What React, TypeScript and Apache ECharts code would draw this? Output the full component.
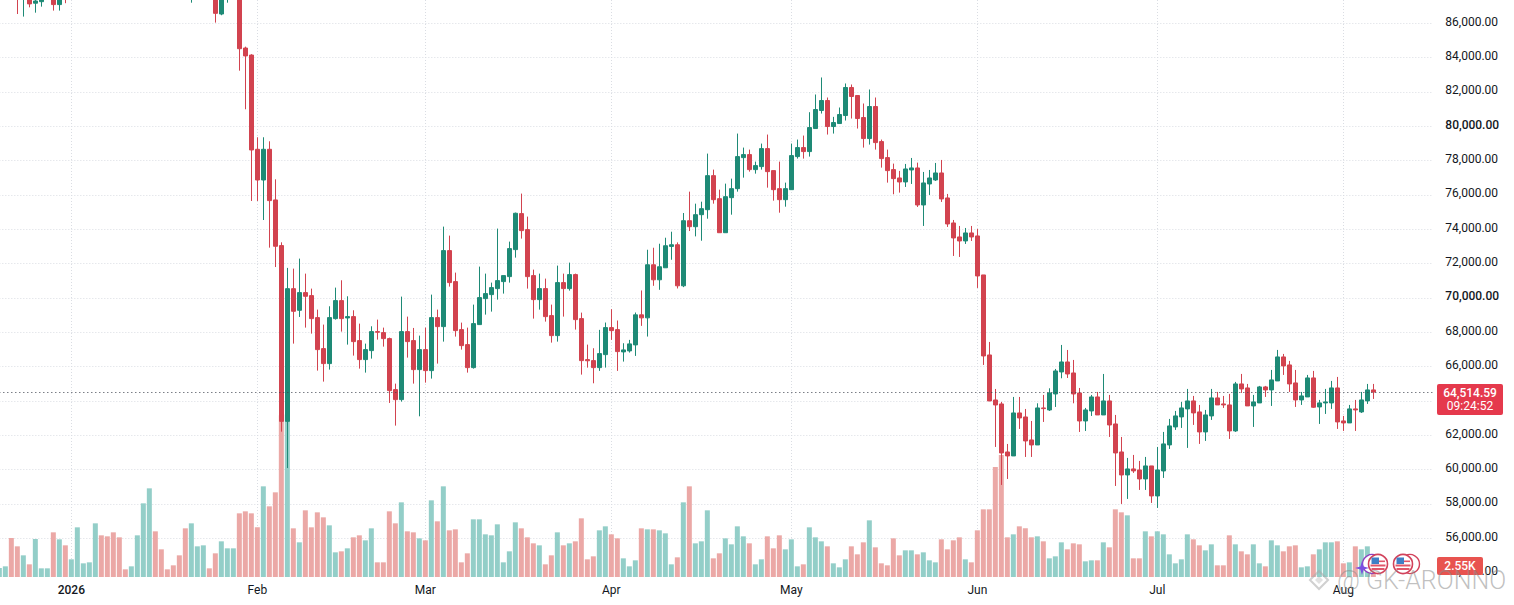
import React, { useEffect, useRef } from "react";
import * as echarts from "echarts";

const opens = [
  87800, 88100, 88300, 87900, 87500, 87600, 87170, 87260, 87500, 87800,
  87090, 88300, 87700, 88500, 89900, 90200, 90500, 92500, 91700, 91000,
  90200, 89500, 89300, 89700, 91500, 94000, 96800, 95200, 94500, 94300,
  93900, 93000, 88500, 88800, 89300, 89800, 89500, 86540, 87900, 88300,
  88800, 84560, 84150, 78660, 76870, 78660, 75710, 73050, 62810, 70540,
  69280, 70310, 70135, 68853, 67047, 66174, 68795, 69844, 68834, 68912,
  67514, 66407, 66931, 68038, 67980, 67630, 64659, 64076, 68038, 67514,
  65824, 66989, 65766, 68853, 68329, 72757, 70951, 68154, 67280, 65940,
  68446, 69960, 70193, 70543, 70951, 71242, 72815, 74912, 73980, 71300,
  69902, 70543, 68970, 67805, 70893, 70543, 71359, 68795, 66407, 66348,
  65940, 66698, 68271, 68154, 66856, 66914, 67264, 69015, 68840, 71932,
  71057, 71757, 73002, 73099, 70707, 74500, 74150, 74850, 75141, 77125,
  75783, 73800, 75842, 76367, 78175, 78351, 77476, 77651, 78700, 77417,
  76367, 75725, 76308, 78234, 78759, 78526, 79868, 80919, 81502, 79985,
  80160, 80626, 82260, 81793, 80510, 79284, 81151, 79109, 78176, 77476,
  76990, 76757, 77456, 77573, 75417, 76641, 76874, 77281, 75825, 74368,
  73553, 73320, 73786, 73611, 71339, 66678, 64056, 63823, 61027, 60795,
  63300, 63066, 61726, 61435, 63591, 63474, 64406, 65688, 66270, 65629,
  64464, 62833, 63416, 64232, 63183, 64000, 62658, 61027, 59688, 60038,
  59980, 59455, 60213, 58465, 59921, 61437, 62485, 63068, 63534, 64000,
  63359, 62194, 63126, 64175, 63825, 63767, 62252, 64990, 64757, 63709,
  63883, 64815, 64641, 65165, 66563, 66097, 65048, 64058, 64233, 65340,
  63650, 63883, 63883, 64757, 62834, 62718, 63534, 63359, 64000, 64641,
];

const closes = [
  88100, 88300, 87900, 87500, 87900, 87130, 87300, 87500, 87700, 87090,
  87700, 87700, 88500, 89900, 90200, 90500, 92500, 91700, 91000, 90200,
  89500, 89300, 89700, 91500, 94000, 96800, 95200, 94500, 94300, 93900,
  93000, 88500, 88800, 89300, 89800, 89500, 86580, 87900, 88300, 88800,
  84520, 84100, 78620, 76870, 78660, 75670, 73010, 62810, 70540, 69222,
  70310, 70096, 68795, 66989, 66174, 68853, 69844, 68795, 68912, 67455,
  66407, 66989, 68038, 68000, 67630, 64600, 64076, 68038, 67455, 65824,
  66989, 65766, 68853, 68329, 72757, 70893, 68096, 67222, 65940, 68504,
  70019, 70252, 70601, 71009, 71300, 72873, 74932, 73922, 71242, 69902,
  70543, 68912, 67805, 70893, 70543, 71359, 68737, 66348, 66340, 65940,
  66756, 68271, 68096, 66873, 66972, 67323, 69015, 68840, 71932, 71057,
  71816, 73041, 73099, 70707, 74500, 74150, 74850, 75200, 77125, 75725,
  73800, 75900, 76367, 78234, 78351, 77476, 77709, 78700, 77358, 76308,
  75725, 76367, 78292, 78759, 78526, 79926, 80977, 81502, 79985, 80218,
  80685, 82260, 81735, 80451, 79284, 81151, 79050, 78117, 77417, 76950,
  76757, 77514, 77573, 75417, 76699, 76990, 77281, 75767, 74310, 73495,
  73320, 73786, 73553, 71281, 66620, 63998, 63765, 60969, 60795, 63300,
  63008, 61668, 61435, 63591, 63552, 64464, 65746, 66270, 65571, 64406,
  62833, 63474, 64232, 63183, 64000, 62600, 60969, 59687, 60038, 59922,
  59455, 60213, 58465, 59980, 61495, 62543, 63126, 63592, 64000, 63301,
  62194, 63184, 64175, 63767, 63767, 62252, 64990, 64699, 63709, 63942,
  64815, 64641, 65223, 66563, 66039, 64990, 64058, 64291, 65340, 63631,
  63883, 63942, 64757, 62776, 62718, 63534, 63475, 64058, 64641, 64514.59,
];

const lows = [
  87500, 87700, 87500, 86540, 86390, 86930, 86620, 86970, 87450, 86740,
  86740, 87170, 87450, 88200, 89500, 89800, 90200, 91200, 90500, 89700,
  89000, 88900, 89000, 89400, 91200, 93700, 94700, 94000, 93900, 93500,
  92500, 88000, 87200, 88300, 88900, 89200, 86040, 86470, 87200, 87900,
  83240, 80990, 75650, 75650, 74540, 72930, 71800, 62210, 60090, 67339,
  68892, 68271, 67921, 65766, 65125, 65824, 68737, 68038, 67280, 66640,
  65882, 65649, 66465, 67572, 67164, 63882, 62561, 63960, 66523, 65008,
  63105, 65066, 65300, 66174, 67455, 70660, 67747, 66989, 65649, 65882,
  68446, 69028, 69203, 69902, 70252, 70893, 72349, 73456, 70543, 68795,
  69320, 68620, 67397, 67455, 68912, 70426, 68155, 65533, 65940, 65027,
  65750, 65942, 67556, 65750, 66292, 66817, 66622, 68373, 67750, 70707,
  70474, 71757, 72224, 70551, 70629, 73897, 73586, 73333, 74616, 75492,
  73800, 73800, 74850, 76192, 77009, 77358, 77242, 77476, 76425, 75667,
  74966, 75316, 76308, 78117, 78117, 78234, 79868, 80743, 79518, 79576,
  80160, 80335, 80451, 79868, 78759, 78934, 78642, 77592, 76717, 76039,
  76136, 76466, 76640, 75300, 74194, 76000, 76815, 75592, 74136, 72446,
  72388, 73145, 73320, 70582, 66096, 63998, 61319, 59105, 59454, 60795,
  62367, 60736, 60736, 61435, 62775, 63416, 63649, 65319, 65338, 63862,
  62192, 62250, 63125, 63183, 63183, 61901, 59046, 57998, 58290, 59805,
  58815, 58815, 58057, 57766, 59514, 61203, 62310, 62427, 61262, 62602,
  61495, 61669, 62893, 63767, 63592, 61786, 62194, 64466, 63709, 62485,
  63883, 64233, 63708, 65165, 65514, 64524, 63650, 63767, 64233, 63592,
  62660, 63242, 63534, 62369, 62252, 62718, 62252, 63300, 63825, 64116,
];

const highs = [
  88400, 88600, 88700, 88200, 88200, 88000, 87700, 87900, 88000, 88100,
  88100, 88600, 88900, 90300, 90800, 91000, 93000, 92900, 92200, 91500,
  90700, 89900, 90000, 92000, 94800, 97500, 97200, 95700, 94900, 94700,
  94300, 93300, 89200, 89700, 90100, 90000, 89800, 88200, 88600, 89000,
  89100, 84640, 84200, 79360, 79360, 79125, 76910, 73240, 71750, 71708,
  72291, 71417, 70543, 69320, 68446, 69514, 70601, 71029, 70096, 69281,
  68504, 67339, 68349, 68737, 68271, 67688, 65008, 70077, 68912, 68252,
  67805, 68271, 70193, 69320, 74155, 73631, 71475, 68562, 68271, 69611,
  71825, 71417, 70893, 74039, 71300, 73281, 74971, 76078, 74738, 71650,
  71417, 71126, 69611, 71883, 71417, 72058, 71417, 69145, 67280, 67070,
  68140, 68567, 69345, 68684, 67360, 67556, 69151, 70435, 72808, 72924,
  73158, 73508, 73858, 73235, 74947, 76192, 75492, 75608, 78409, 77476,
  76308, 76659, 76950, 79576, 78759, 78642, 77942, 78992, 79518, 77417,
  77942, 76717, 78992, 79226, 79459, 80821, 81852, 82844, 81677, 80549,
  81094, 82494, 82435, 81793, 81327, 82144, 81677, 79226, 78642, 77825,
  77400, 77806, 78155, 77883, 77340, 77456, 77864, 78039, 76058, 74543,
  74194, 74077, 74194, 74019, 71339, 67436, 64697, 63940, 61493, 64232,
  64232, 63532, 62833, 63862, 64348, 64736, 65863, 67261, 66969, 66387,
  64755, 63591, 64348, 64523, 65571, 64348, 63183, 61901, 60679, 60854,
  60504, 60737, 60213, 61320, 62194, 62951, 63417, 63942, 64699, 64291,
  63767, 63475, 64699, 64524, 64291, 64408, 65107, 65573, 64990, 64349,
  64874, 64874, 65806, 66971, 66738, 66330, 65806, 64524, 65514, 65748,
  64058, 64699, 65165, 65398, 63126, 63767, 64058, 64524, 64990, 64990,
];

const volumes = [
  2160, 2560, 9360, 7360, 5200, 3040, 9120, 2080, 2080, 10720,
  9040, 7600, 4240, 11920, 3280, 3520, 12880, 10000, 9760, 10720,
  9520, 1840, 2560, 10000, 17680, 21280, 10960, 6640, 1840, 2800,
  5200, 11680, 12880, 7360, 7600, 2080, 5680, 8560, 6880, 6880,
  15280, 15760, 15280, 11920, 21760, 16960, 20320, 38800, 39000, 11680,
  8320, 16000, 11920, 15520, 14320, 12400, 5920, 6160, 6880, 9520,
  10000, 8800, 11680, 3520, 3520, 15760, 12880, 17920, 10960, 10720,
  9280, 8800, 18400, 13360, 21760, 11200, 11440, 3520, 5680, 13840,
  13840, 10240, 10000, 12640, 3520, 6160, 13120, 11680, 9520, 8080,
  7600, 3040, 5200, 10720, 7600, 8080, 8560, 14080, 4240, 4960,
  11200, 12160, 10240, 9280, 4480, 2560, 4000, 11680, 11440, 11440,
  11200, 10480, 3040, 4720, 17920, 21760, 8080, 8560, 16000, 4480,
  5680, 9280, 7840, 12160, 9760, 8080, 3040, 4240, 9760, 6880,
  10000, 6640, 9040, 2560, 3040, 11920, 9520, 8560, 7360, 3280,
  2320, 4240, 7360, 5440, 8320, 13600, 7120, 3280, 2800, 9280,
  5200, 6400, 6400, 5440, 5920, 4000, 3520, 9040, 6640, 8800,
  9520, 4240, 3520, 11200, 16240, 16240, 26400, 29280, 9520, 10240,
  12160, 11680, 9520, 9760, 8560, 4480, 4960, 8320, 6640, 8080,
  7840, 3760, 4000, 4000, 8320, 7120, 16240, 15520, 14800, 4480,
  4480, 10960, 9760, 10960, 10240, 5440, 3280, 4240, 10240, 9040,
  7600, 6400, 7840, 2800, 2800, 10000, 7840, 6160, 5440, 7840,
  3280, 2560, 8800, 7600, 6160, 7360, 7600, 2320, 2560, 5440,
  6640, 8320, 8320, 8560, 3280, 3520, 7360, 6640, 7360, 2550,
];

const firstDay = Date.UTC(2025, 11, 20);
const slotCount = 240;
const categories: string[] = [];
for (let i = 0; i < slotCount; i++) {
  categories.push(new Date(firstDay + i * 86400000).toISOString().slice(0, 10));
}

const tickDates = ["2026-01-01", "2026-02-01", "2026-03-01", "2026-04-01", "2026-05-01", "2026-06-01", "2026-07-01", "2026-08-01"];
const tickLabels = ["2026", "Feb", "Mar", "Apr", "May", "Jun", "Jul", "Aug"];
const boldPrices = [70000, 80000];
const hiddenPrices = [64000, 88000];
const lastPrice = 64514.59;

const UP = "#1E8A76";
const DOWN = "#D2434F";
const UP_VOL = "#93CEC8";
const DOWN_VOL = "#EBA8A6";
const GRID = "#DADDE3";
const TEXT = "#131722";

function flag(cx: number, cy: number) {
  return [
    { type: "circle", z: 50, shape: { cx, cy, r: 9.5 }, style: { fill: "#fff", stroke: "#D2435C", lineWidth: 1.6 } },
    { type: "rect", z: 50, shape: { x: cx - 7.5, y: cy + 0.5, width: 15, height: 2 }, style: { fill: "#E0566A" } },
    { type: "rect", z: 50, shape: { x: cx - 6.5, y: cy + 4, width: 13, height: 2 }, style: { fill: "#E0566A" } },
    { type: "rect", z: 50, shape: { x: cx - 1, y: cy - 3.5, width: 8, height: 1.6 }, style: { fill: "#E0566A" } },
    { type: "rect", z: 50, shape: { x: cx - 6.5, y: cy - 6.5, width: 7.5, height: 6.5 }, style: { fill: "#3F7FC6" } },
  ];
}

function overlays() {
  return [
    { type: "circle", z: 50, shape: { cx: 1372, cy: 564, r: 9.5 }, style: { fill: "#fff", stroke: "#8E3FC0", lineWidth: 1.4 } },
    { type: "circle", z: 50, shape: { cx: 1410, cy: 564, r: 9.5 }, style: { fill: "#fff", stroke: "#D2435C", lineWidth: 1.4 } },
    ...flag(1378, 564),
    ...flag(1403, 564),
    {
      type: "polygon",
      z: 50,
      shape: { points: [[1362, 561], [1363.6, 566.4], [1369, 568], [1363.6, 569.6], [1362, 575], [1360.4, 569.6], [1355, 568], [1360.4, 566.4]] },
      style: { fill: "#7B4FE0" },
    },
    { type: "rect", z: 50, shape: { x: 1437, y: 384, width: 66, height: 31, r: 2 }, style: { fill: "#E5394C" } },
    { type: "text", z: 51, x: 1470, y: 392.5, style: { text: "64,514.59", fill: "#fff", font: "500 12px Roboto", align: "center", verticalAlign: "middle" } },
    { type: "text", z: 51, x: 1470, y: 406, style: { text: "09:24:52", fill: "#fff", font: "12px Roboto", align: "center", verticalAlign: "middle" } },
    { type: "rect", z: 50, shape: { x: 1437, y: 557, width: 46, height: 18, r: 2 }, style: { fill: "#E8534F" } },
    { type: "text", z: 51, x: 1460, y: 566, style: { text: "2.55K", fill: "#fff", font: "500 12px Roboto", align: "center", verticalAlign: "middle" } },
    {
      type: "polygon",
      z: 52,
      shape: { points: [[1310, 580], [1319, 571], [1328, 580], [1319, 589]] },
      style: { fill: "none", stroke: "rgba(170,170,170,0.55)", lineWidth: 2 },
    },
    {
      type: "polygon",
      z: 52,
      shape: { points: [[1315, 580], [1319, 576], [1323, 580], [1319, 584]] },
      style: { fill: "rgba(170,170,170,0.35)" },
    },
    { type: "text", z: 52, x: 1337, y: 580, style: { text: "@ GK-ARONNO", fill: "rgba(140,140,140,0.55)", font: "300 25px Roboto", align: "left", verticalAlign: "middle" } },
  ];
}

export default function App() {
  const ref = useRef<HTMLDivElement>(null);
  useEffect(() => {
    document.body.style.margin = "0";
    const chart = echarts.init(ref.current!, undefined, { renderer: "svg" });
    const candleData = opens.map((o, i) => [o, closes[i], lows[i], highs[i]]);
    const volumeData = volumes.map((v, i) => ({
      value: v,
      itemStyle: { color: closes[i] >= opens[i] ? UP_VOL : DOWN_VOL },
    }));
    const isTick = (_: number, v: string) => tickDates.includes(v);
    chart.setOption({
      animation: false,
      backgroundColor: "#fff",
      grid: [
        { left: -0.67, width: 1434, top: -11.03, height: 583.6, outerBoundsMode: "none" },
        { left: -0.67, width: 1434, top: 0, height: 577, outerBoundsMode: "none" },
      ],
      xAxis: [
        { type: "category", gridIndex: 0, data: categories, boundaryGap: false, show: false },
        {
          type: "category",
          gridIndex: 1,
          data: categories,
          boundaryGap: false,
          axisLine: { show: false },
          axisTick: { show: false },
          splitLine: { show: true, interval: isTick, lineStyle: { color: GRID, type: [1, 2], width: 1 } },
          axisLabel: {
            interval: isTick,
            margin: 7,
            color: TEXT,
            fontFamily: "Roboto",
            fontSize: 12,
            formatter: (v: string) => {
              const l = tickLabels[tickDates.indexOf(v)] ?? "";
              return l === "2026" ? `{b|${l}}` : l;
            },
            rich: { b: { fontFamily: "Roboto", fontSize: 12, fontWeight: 500, color: TEXT } },
          },
        },
      ],
      yAxis: [
        {
          type: "value",
          gridIndex: 0,
          position: "right",
          min: 54000,
          max: 88000,
          interval: 2000,
          axisLine: { show: false },
          axisTick: { show: false },
          splitLine: { show: true, showMinLine: false, lineStyle: { color: GRID, type: [1, 2], width: 1 } },
          axisLabel: {
            margin: 12,
            color: TEXT,
            fontFamily: "Roboto",
            fontSize: 12,
            padding: [0, 0, 3, 0],
            formatter: (v: number) => {
              if (hiddenPrices.includes(v)) return "";
              const s = v.toLocaleString("en-US", { minimumFractionDigits: 2, maximumFractionDigits: 2 });
              return boldPrices.includes(v) ? `{b|${s}}` : s;
            },
            rich: { b: { fontFamily: "Roboto", fontSize: 12, fontWeight: 500, color: TEXT } },
          },
        },
        { type: "value", gridIndex: 1, min: 0, max: 138480, show: false, splitLine: { show: false } },
      ],
      series: [
        {
          type: "bar",
          xAxisIndex: 1,
          yAxisIndex: 1,
          data: volumeData,
          barWidth: 5,
          z: 1,
          silent: true,
        },
        {
          type: "candlestick",
          xAxisIndex: 0,
          yAxisIndex: 0,
          data: candleData,
          barWidth: 4,
          z: 2,
          silent: true,
          itemStyle: { color: UP, color0: DOWN, borderColor: UP, borderColor0: DOWN, borderWidth: 1 },
          markLine: {
            silent: true,
            symbol: "none",
            animation: false,
            label: { show: false },
            lineStyle: { color: "#3A3F4B", type: [1, 3], width: 1 },
            data: [{ yAxis: lastPrice }],
          },
        },
      ],
      graphic: overlays(),
    });
    return () => chart.dispose();
  }, []);
  return <div ref={ref} style={{ position: "fixed", left: 0, top: 0, width: 1514, height: 605, background: "#fff" }} />;
}
